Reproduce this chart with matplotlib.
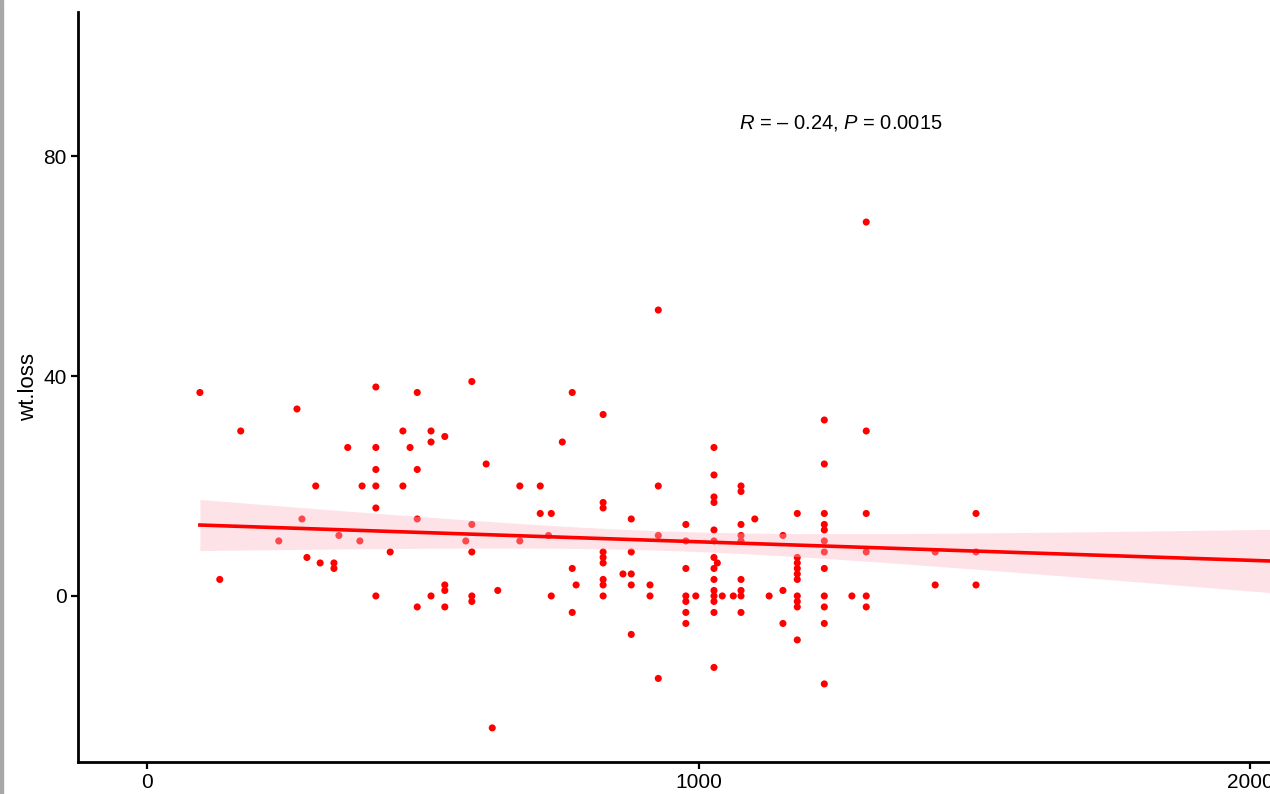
import numpy as np
import matplotlib
matplotlib.use("Agg")
import matplotlib.pyplot as plt
from matplotlib.patches import Rectangle

plt.rcParams['font.family'] = ['Liberation Sans', 'DejaVu Sans']
plt.rcParams['mathtext.fontset'] = 'custom'
plt.rcParams['mathtext.it'] = 'Liberation Sans:italic'
plt.rcParams['mathtext.rm'] = 'Liberation Sans'

# meal.cal values (x) and wt.loss values (y)
meal_cal = [96, 132, 170, 239, 272, 281, 290, 306, 314, 339, 339, 348, 364, 386, 390,
            415, 415, 415, 415, 415, 415, 441, 464, 464, 477, 490, 490, 490, 490,
            515, 515, 515, 540, 540, 540, 540, 578, 589, 589, 589, 589, 589, 615, 636, 626,
            676, 676, 713, 713, 728, 733, 733, 753, 771, 771, 771, 778,
            827, 827, 827, 827, 827, 827, 827, 827, 827, 863, 878, 878, 878, 878, 878,
            912, 912, 927, 927, 927, 927, 977, 977, 977, 977, 977, 977, 977, 995,
            1028, 1028, 1028, 1028, 1028, 1028, 1028, 1034, 1028, 1028, 1028, 1028, 1028, 1028, 1028,
            1043, 1063, 1077, 1077, 1077, 1077, 1077, 1077, 1077, 1077, 1077, 1102, 1128,
            1153, 1153, 1153, 1179, 1179, 1179, 1179, 1179, 1179, 1179, 1179, 1179, 1179,
            1228, 1228, 1228, 1228, 1228, 1228, 1228, 1228, 1228, 1228, 1228, 1228,
            1278, 1304, 1304, 1304, 1304, 1304, 1304, 1429, 1429, 1503, 1503, 1503]
wt_loss = [37, 3, 30, 10, 34, 14, 7, 20, 6, 6, 5, 11, 27, 10, 20,
           38, 27, 23, 20, 16, 0, 8, 30, 20, 27, 37, 23, 14, -2,
           30, 28, 0, 29, 2, 1, -2, 10, 39, 13, 8, 0, -1, 24, 1, -24,
           20, 10, 20, 15, 11, 15, 0, 28, 37, 5, -3, 2,
           33, 17, 16, 8, 7, 6, 3, 2, 0, 4, 14, 8, 4, 2, -7,
           2, 0, 52, 20, 11, -15, 13, 10, 5, 0, -1, -3, -5, 0,
           27, 22, 18, 17, 12, 10, 7, 6, 5, 3, 1, 0, -1, -3, -13,
           0, 0, 20, 19, 13, 11, 10, 3, 1, 0, -3, 14, 0,
           11, 1, -5, 15, 7, 6, 5, 4, 3, 0, -1, -2, -8,
           32, 24, 15, 13, 12, 10, 8, 5, 0, -2, -5, -16,
           0, 68, 30, 15, 8, 0, -2, 8, 2, 15, 8, 2]

# linear fit (the full data set extends beyond the visible x range)
fit_intercept = 13.22
fit_slope = -0.00337
band_center_x = 950.0      # x where the confidence band is narrowest
band_min_half = 1.76       # half-width of the band at its narrowest
band_growth = 0.00504      # growth of the band half-width per unit x

x_ticks = [0, 1000, 2000]
y_ticks = [0, 40, 80]
annotation = "$\\mathit{R}$ = \u2013 0.24, $\\mathit{P}$ = 0.0015"

W, H = 1270, 794
fig = plt.figure(figsize=(W / 100, H / 100), dpi=100)
ax = fig.add_axes([78 / W, 1 - 762 / H, (W - 78) / W, (762 - 12) / H])

x = np.array(meal_cal, dtype=float)
y = np.array(wt_loss, dtype=float)

xlim = (-125, 2036)
ylim = (-30.2, 106.2)

ax.scatter(x, y, s=26, color='#FF0000', edgecolors='none', zorder=2)

xs = np.linspace(x.min(), xlim[1] + 50, 200)
ys = fit_intercept + fit_slope * xs
hw = np.sqrt(band_min_half ** 2 + (band_growth * (xs - band_center_x)) ** 2)
ax.fill_between(xs, ys - hw, ys + hw, color='#FAB9C3', alpha=0.4,
                linewidth=0, zorder=3)
ax.plot(xs, ys, color='#FF0000', linewidth=2.6, zorder=4)

ax.set_xlim(*xlim)
ax.set_ylim(*ylim)
ax.set_xticks(x_ticks)
ax.set_yticks(y_ticks)
ax.tick_params(axis='both', labelsize=15, length=5, width=1.6, colors='black', pad=3)
for sp in ['top', 'right']:
    ax.spines[sp].set_visible(False)
for sp in ['left', 'bottom']:
    ax.spines[sp].set_linewidth(2.0)
    ax.spines[sp].set_color('black')
ax.set_ylabel('wt.loss', fontsize=16, labelpad=3.5)

ax.text(1258, 86, annotation, fontsize=14.5, ha='center', va='center')

# gray left border from the screenshot
fig.patches.append(Rectangle((0, 0), 3 / W, 1, transform=fig.transFigure,
                             color='#A8A8A8', zorder=10))

fig.savefig('out.png', dpi=100)
